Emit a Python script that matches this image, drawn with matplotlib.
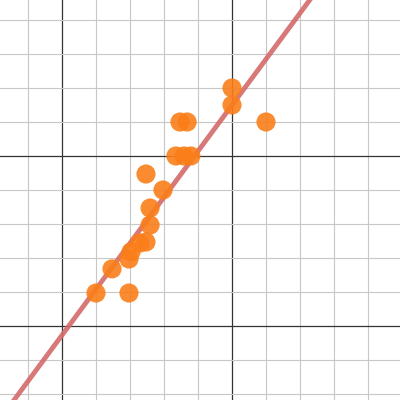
import matplotlib
matplotlib.use("Agg")
import matplotlib.pyplot as plt
import numpy as np

xs = [1.0, 1.47, 1.97, 1.97, 2.03, 2.29, 2.47, 2.59, 2.59, 2.47, 2.97, 3.35, 3.59, 3.79, 3.47, 3.68, 5.0, 5.0, 6.0]
ys = [0.97, 1.68, 0.97, 1.97, 2.18, 2.44, 2.47, 2.97, 3.47, 4.47, 4.0, 5.0, 5.0, 5.0, 6.0, 6.0, 7.0, 6.5, 6.0]
slope = 1.353
intercept = -0.27

xmin, xmax = -62/34, 338/34
ymin, ymax = -74/34, 326/34

fig = plt.figure(figsize=(4, 4), dpi=100)
ax = fig.add_axes([0, 0, 1, 1])
ax.set_xlim(xmin, xmax)
ax.set_ylim(ymin, ymax)
for v in range(-1, 10):
    c, lw = ('#333333', 0.9) if v % 5 == 0 else ('#c8c8c8', 0.8)
    ax.axvline(v, color=c, lw=lw, zorder=0)
for v in range(-2, 10):
    c, lw = ('#333333', 0.9) if v % 5 == 0 else ('#c8c8c8', 0.8)
    ax.axhline(v, color=c, lw=lw, zorder=0)
lx = np.array([xmin, xmax])
ax.plot(lx, slope*lx + intercept, color='#d46a6a', lw=3.5, alpha=0.9, zorder=2)
ax.scatter(xs, ys, s=190, color='#fa7e19', alpha=0.9, edgecolors='none', zorder=3)
ax.set_xticks([]); ax.set_yticks([])
for s in ax.spines.values():
    s.set_visible(False)
fig.savefig('out.png', dpi=100)
